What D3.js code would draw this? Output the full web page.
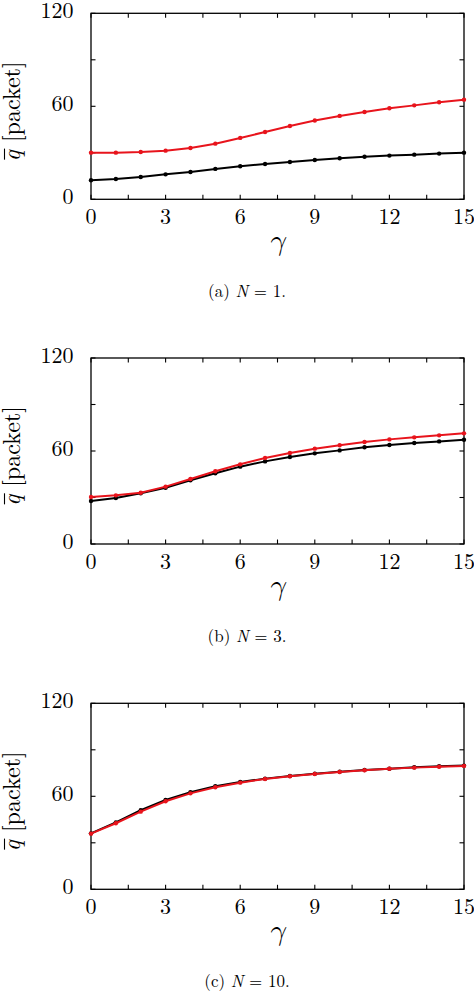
<!DOCTYPE html>
<html><head><meta charset="utf-8">
<script src="https://cdn.jsdelivr.net/npm/d3@7"></script>
<style>
html,body{margin:0;padding:0;background:#fff;}
svg{display:block;}
</style></head>
<body>
<svg id="chart" width="474" height="993"></svg>
<script>
const gammaValues = [0,1,2,3,4,5,6,7,8,9,10,11,12,13,14,15];
const xTickLabels = [0,3,6,9,12,15];
const yTickLabels = [0,60,120];
const captions = ["(a)", "(b)", "(c)"];
const nValues = ["1", "3", "10"];

const blackA = [12.3,13.1,14.4,16.1,17.6,19.6,21.3,22.8,24.1,25.4,26.5,27.5,28.2,28.8,29.5,30.1];
const redA   = [30.1,30.1,30.5,31.4,33.1,35.9,39.6,43.4,47.3,50.8,53.8,56.3,58.7,60.6,62.6,64.3];
const blackB = [27.7,29.7,32.7,36.3,41.1,45.6,49.9,53.3,56.1,58.5,60.4,62.4,63.9,65.2,66.2,67.3];
const redB   = [30.3,31.4,33.1,37.0,41.9,46.9,51.4,55.5,58.7,61.5,63.7,65.8,67.5,68.8,70.1,71.4];
const blackC = [36.1,43.2,51.0,57.6,62.6,66.5,69.2,71.4,73.1,74.6,75.9,77.0,77.8,78.7,79.4,79.8];
const redC   = [35.9,42.6,50.1,56.8,61.9,65.8,68.8,71.2,72.9,74.4,75.7,76.8,77.8,78.5,79.1,79.6];

const blackSeries = [blackA, blackB, blackC];
const redSeries = [redA, redB, redC];

const FONT = "Latin Modern Roman, Liberation Serif, serif";
const MATH = "Latin Modern Math, Latin Modern Roman, serif";
const svg = d3.select("#chart");
const left = 91, right = 464;
const tops = [13.3, 358, 703.3];
const plotH = 186;
const RED = "#e8141c";

tops.forEach((top, i) => {
  const bottom = top + plotH;
  const x = d3.scaleLinear().domain([0,15]).range([left,right]);
  const y = d3.scaleLinear().domain([0,120]).range([bottom,top]);
  const g = svg.append("g").attr("font-family", FONT).attr("fill", "#000");

  const xt = d3.range(0, 15.01, 1.5);
  const yt = d3.range(0, 120.01, 30);
  const tl = 4.5;
  g.selectAll(".xtb").data(xt).join("line")
    .attr("x1", d=>x(d)).attr("x2", d=>x(d)).attr("y1", bottom).attr("y2", bottom-tl)
    .attr("stroke","#000").attr("stroke-width",1.1);
  g.selectAll(".xtt").data(xt).join("line")
    .attr("x1", d=>x(d)).attr("x2", d=>x(d)).attr("y1", top).attr("y2", top+tl)
    .attr("stroke","#000").attr("stroke-width",1.1);
  g.selectAll(".ytl").data(yt).join("line")
    .attr("x1", left).attr("x2", left+tl).attr("y1", d=>y(d)).attr("y2", d=>y(d))
    .attr("stroke","#000").attr("stroke-width",1.1);
  g.selectAll(".ytr").data(yt).join("line")
    .attr("x1", right).attr("x2", right-tl).attr("y1", d=>y(d)).attr("y2", d=>y(d))
    .attr("stroke","#000").attr("stroke-width",1.1);

  g.append("rect").attr("x", left).attr("y", top).attr("width", right-left).attr("height", bottom-top)
    .attr("fill","none").attr("stroke","#000").attr("stroke-width",1.3);

  g.selectAll(".xl").data(xTickLabels).join("text")
    .attr("x", d=>x(d)).attr("y", bottom+24.5).attr("text-anchor","middle")
    .attr("font-size",22).text(d=>d);
  g.selectAll(".yl").data(yTickLabels).join("text")
    .attr("x", 73.5).attr("y", d=>y(d)+4.5).attr("text-anchor","end")
    .attr("font-size",22).text(d=>d);

  g.append("text").attr("x", 278).attr("y", bottom+51)
    .attr("text-anchor","middle").attr("font-size",29).attr("font-family", MATH).text("𝛾");

  const ylg = g.append("g").attr("transform", `translate(20,${(top+bottom)/2+5}) rotate(-90)`);
  const yl = ylg.append("text").attr("text-anchor","middle").attr("font-size",24);
  yl.append("tspan").attr("font-style","italic").text("q");
  yl.append("tspan").text(" [packet]");
  const node = yl.node();
  const s = node.getStartPositionOfChar(0), e = node.getEndPositionOfChar(0);
  ylg.append("line").attr("x1", s.x + 1.5).attr("x2", e.x + 1.5).attr("y1", -15.5).attr("y2", -15.5)
    .attr("stroke", "#000").attr("stroke-width", 1.1);

  const cap = g.append("text").attr("x", 247).attr("y", bottom+98).attr("text-anchor","middle").attr("font-size",17);
  cap.append("tspan").text(captions[i] + " ");
  cap.append("tspan").attr("font-style","italic").text("N");
  cap.append("tspan").text(" = " + nValues[i] + ".");

  const line = d3.line().x((d,j)=>x(gammaValues[j])).y(d=>y(d));
  [[blackSeries[i], "#000"], [redSeries[i], RED]].forEach(([vals, col]) => {
    g.append("path").datum(vals).attr("d", line).attr("fill","none")
      .attr("stroke", col).attr("stroke-width", 2);
    g.selectAll(null).data(vals).join("circle")
      .attr("cx", (d,j)=>x(gammaValues[j])).attr("cy", d=>y(d)).attr("r", 2.2).attr("fill", col);
  });
});
</script>
</body></html>
